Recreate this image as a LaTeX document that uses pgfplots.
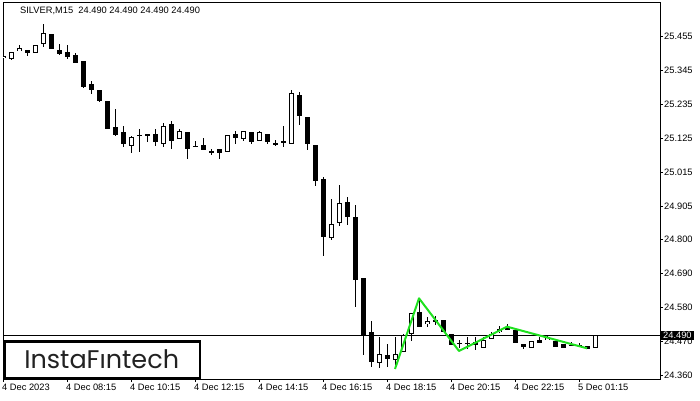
\documentclass[border=0pt]{standalone}
\usepackage{pgfplots}
\pgfplotsset{compat=1.18}
\usepackage{pgfplotstable}
\usepackage{fontspec}
\setmainfont{Liberation Sans}
\newfontfamily\logofont{Poppins}
\definecolor{zig}{RGB}{30,225,30}

% bullish candles (close > open)
\pgfplotstableread{
k O H L C
0 25.3838 25.3929 25.3709 25.3913
1 25.3826 25.4042 25.3793 25.4032
2 25.4084 25.4267 25.4074 25.4161
4 25.4000 25.4267 25.4000 25.4267
5 25.4290 25.4945 25.4193 25.4645
16 25.1019 25.1332 25.0793 25.1300
17 25.1348 25.1558 25.0826 25.1364
20 25.1084 25.1751 25.0987 25.1655
22 25.1245 25.1558 25.1245 25.1493
28 25.0826 25.1364 25.0826 25.1364
30 25.1245 25.1493 25.1180 25.1493
32 25.1180 25.1493 25.1180 25.1461
36 25.1084 25.2816 25.1084 25.2719
41 24.8051 24.9300 24.7977 24.8484
42 24.8535 24.9751 24.8438 24.9171
47 24.4000 24.4838 24.3838 24.4290
49 24.4106 24.4838 24.3890 24.4290
50 24.4355 24.4945 24.4355 24.4913
51 24.4945 24.5613 24.4719 24.5613
53 24.5267 24.5493 24.5171 24.5364
60 24.4503 24.4858 24.4484 24.4751
61 24.4800 24.5019 24.4800 24.4945
62 24.5009 24.5203 24.4977 24.5106
66 24.4484 24.4719 24.4484 24.4719
68 24.4751 24.4913 24.4751 24.4848
72 24.4542 24.4645 24.4535 24.4606
74 24.4484 24.4900 24.4484 24.4900
}\bull

% bearish candles (close < open)
\pgfplotstableread{
k O H L C
3 25.4096 25.4106 25.3922 25.4019
6 25.4622 25.4622 25.4148 25.4148
7 25.4106 25.4300 25.3935 25.3977
8 25.4042 25.4267 25.3826 25.3890
9 25.3945 25.4009 25.3696 25.3696
10 25.3751 25.3751 25.2890 25.2922
11 25.3009 25.3106 25.2696 25.2816
12 25.2816 25.2816 25.2438 25.2471
13 25.2461 25.2461 25.1548 25.1548
14 25.1613 25.2203 25.1332 25.1364
15 25.1461 25.1655 25.0987 25.1084
18 25.1396 25.1396 25.1148 25.1355
19 25.1396 25.1558 25.1019 25.1148
21 25.1719 25.1816 25.0922 25.1180
23 25.1461 25.1461 25.0600 25.0922
24 25.1003 25.1180 25.0987 25.0987
25 25.1051 25.1277 25.0890 25.0890
26 25.0832 25.0922 25.0729 25.0826
27 25.0903 25.0903 25.0600 25.0793
29 25.1396 25.1493 25.1084 25.1277
31 25.1461 25.1461 25.1084 25.1148
33 25.1396 25.1396 25.1084 25.1148
34 25.1090 25.1213 25.1019 25.1084
35 25.1155 25.1655 25.0987 25.1148
37 25.2655 25.2751 25.1696 25.1987
38 25.1935 25.1935 25.0880 25.1074
39 25.1042 25.1042 24.9729 24.9890
40 24.9945 25.0009 24.7471 24.8084
43 24.9203 24.9364 24.8471 24.8729
44 24.8709 24.9106 24.5826 24.6687
45 24.6742 24.6742 24.4267 24.4913
46 24.5019 24.5364 24.3890 24.4051
48 24.4267 24.4622 24.3890 24.4138
52 24.5645 24.6096 24.5180 24.5180
54 24.5396 24.5542 24.5235 24.5342
55 24.5396 24.5396 24.5019 24.5019
56 24.4935 24.4935 24.4590 24.4590
57 24.4651 24.4751 24.4484 24.4638
58 24.4651 24.4858 24.4461 24.4638
59 24.4696 24.4858 24.4429 24.4590
63 24.5171 24.5258 24.5074 24.5074
64 24.5074 24.5148 24.4645 24.4645
65 24.4613 24.4613 24.4461 24.4519
67 24.4751 24.4858 24.4645 24.4645
69 24.4735 24.4735 24.4535 24.4535
70 24.4622 24.4622 24.4484 24.4484
71 24.4596 24.4677 24.4558 24.4584
73 24.4574 24.4574 24.4477 24.4477
}\bear

\pgfplotsset{
  wick/.style={draw=none, mark=none, forget plot,
    error bars/.cd, y dir=both, y explicit, error mark=none,
    error bar style={draw=black, line width=1pt}},
  body/.style={draw=none, mark=none, forget plot,
    error bars/.cd, y dir=both, y explicit, error mark=none,
    error bar style={draw=black, line width=5pt}},
  inner/.style={draw=none, mark=none, forget plot,
    error bars/.cd, y dir=both, y explicit, error mark=none,
    error bar style={draw=white, line width=3pt}},
}

\begin{document}
\begin{tikzpicture}
\useasboundingbox (-3pt,-21pt) rectangle (697pt,379pt);
\begin{axis}[
  scale only axis,
  width=657pt, height=377pt,
  xmin=0, xmax=82.125,
  ymin=24.3493, ymax=25.5655,
  axis line style={black, line width=0.8pt},
  tick style={black, line width=0.8pt},
  major tick length=3pt,
  tick align=outside,
  xtick pos=bottom, ytick pos=right,
  yticklabel pos=right,
  xtick={0,8,16,24,32,40,48,56,64,72},
  xticklabels={4 Dec 2023,4 Dec 08:15,4 Dec 10:15,4 Dec 12:15,4 Dec 14:15,4 Dec 16:15,4 Dec 18:15,4 Dec 20:15,4 Dec 22:15,5 Dec 01:15},
  ytick={24.360,24.470,24.580,24.690,24.800,24.905,25.015,25.125,25.235,25.345,25.455},
  yticklabels={24.360,24.470,24.580,24.690,24.800,24.905,25.015,25.125,25.235,25.345,25.455},
  every tick label/.append style={font=\fontsize{9.3}{11}\selectfont, text=black},
  xticklabel style={anchor=north west, inner sep=0pt, xshift=-1pt, yshift=-2pt},
  yticklabel style={anchor=west, inner sep=0pt, xshift=1pt},
  clip=true,
]
% current price line
\addplot[black, line width=0.8pt, forget plot] coordinates {(0,24.490) (82.125,24.490)};
% wicks
\addplot[wick] table[x=k, y expr=(\thisrow{H}+\thisrow{L})/2, y error expr=(\thisrow{H}-\thisrow{L})/2] {\bull};
\addplot[wick] table[x=k, y expr=(\thisrow{H}+\thisrow{L})/2, y error expr=(\thisrow{H}-\thisrow{L})/2] {\bear};
% bodies
\addplot[body] table[x=k, y expr=(\thisrow{O}+\thisrow{C})/2, y error expr={max(abs(\thisrow{C}-\thisrow{O})/2,0.0016)}] {\bear};
\addplot[body] table[x=k, y expr=(\thisrow{O}+\thisrow{C})/2, y error expr={max(abs(\thisrow{C}-\thisrow{O})/2,0.0016)}] {\bull};
\addplot[inner] table[x=k, y expr=(\thisrow{O}+\thisrow{C})/2, y error expr={max(abs(\thisrow{C}-\thisrow{O})/2-0.00323,0)}] {\bull};
% pattern zigzag
\addplot[zig, line width=2pt, line join=round] coordinates {(49,24.3816) (52,24.6097) (57,24.4397) (63,24.5181) (73,24.4484)};
\coordinate (pr) at (axis cs:82.125,24.490);
\end{axis}
% title
\node[anchor=west, inner sep=0pt, font=\fontsize{9.3}{11}\selectfont] at (17pt,368.3pt) {SILVER,M15\ \ 24.490 24.490 24.490 24.490};
% price box
\node[anchor=west, fill=black, text=white, inner xsep=2pt, inner ysep=1.5pt, font=\fontsize{9.3}{11}\selectfont] at ([xshift=1pt]pr) {24.490};
% logo
\draw[black, line width=2.5pt, fill=white] (1.25pt,1.25pt) rectangle (196.75pt,37.75pt);
\node[text={rgb,255:red,34;green,34;blue,34}, font=\logofont\fontsize{25.5}{28}\selectfont] at (98.7pt,19.7pt) {InstaFıntech};
\end{tikzpicture}
\end{document}
